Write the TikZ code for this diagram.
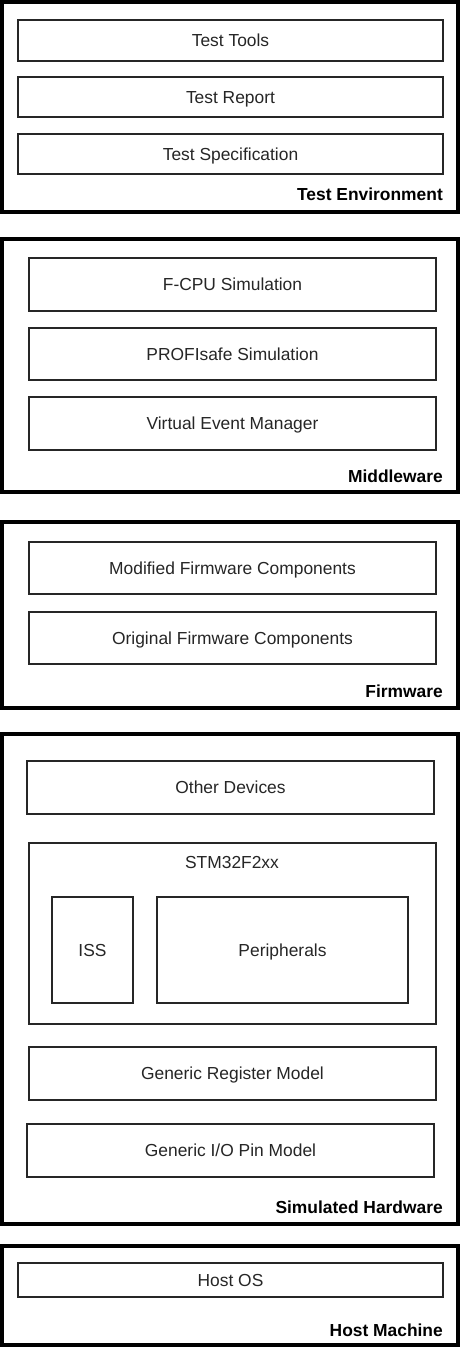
\documentclass[tikz,border=0pt]{standalone}
\usepackage{fontspec}
\setmainfont{Liberation Sans}
\usetikzlibrary{fit}
\begin{document}
\begin{tikzpicture}[x=1pt,y=-1pt,
  layer/.style={draw=black, line width=4pt, inner sep=0pt, fill=white},
  inbox/.style={draw=black!85, line width=2pt, inner sep=0pt},
  lbl/.style={anchor=base east, inner sep=0pt, font=\fontsize{17.4}{20}\selectfont\bfseries},
  txt/.style={inner sep=0pt, anchor=center, text height=12.5pt, text depth=0pt, font=\fontsize{17.4}{20}\selectfont, text=black!85}]
\useasboundingbox[fill=white] (0,0) rectangle (462,1348);
% outer layers
\node[layer, fit={(2,2.5) (458,212)}] (testenv) {};
\node[layer, fit={(2,239) (458,492)}] (mw) {};
\node[layer, fit={(2,522) (458,708)}] (fw) {};
\node[layer, fit={(2,734) (458,1224)}] (hw) {};
\node[layer, fit={(2,1246) (458,1345)}] (host) {};
% test environment
\node[inbox, fit={(18,20) (443,61)}] (tools) {};
\node[txt] (toolst) at (tools.center) {Test Tools};
\node[inbox, fit={(18,77) (443,117)}] (report) {};
\node[txt] (reportt) at (report.center) {Test Report};
\node[inbox, fit={(18,134) (443,174)}] (spec) {};
\node[txt] (spect) at (spec.center) {Test Specification};
\node[lbl] (testenvl) at (443,201) {Test Environment};
% middleware
\node[inbox, fit={(29,258) (436,311)}] (fcpu) {};
\node[txt] (fcput) at (fcpu.center) {F-CPU Simulation};
\node[inbox, fit={(29,328) (436,380)}] (profi) {};
\node[txt] (profit) at (profi.center) {PROFIsafe Simulation};
\node[inbox, fit={(29,397) (436,450)}] (vem) {};
\node[txt] (vemt) at (vem.center) {Virtual Event Manager};
\node[lbl] (mwl) at (443,482) {Middleware};
% firmware
\node[inbox, fit={(29,542) (436,594)}] (mod) {};
\node[txt] (modt) at (mod.center) {Modified Firmware Components};
\node[inbox, fit={(29,612) (436,664)}] (orig) {};
\node[txt] (origt) at (orig.center) {Original Firmware Components};
\node[lbl] (fwl) at (443,697) {Firmware};
% simulated hardware
\node[inbox, fit={(27,761) (434,814)}] (other) {};
\node[txt] (othert) at (other.center) {Other Devices};
\node[inbox, fit={(29,843) (436,1024)}] (stm) {};
\node[txt] (stml) at (232,862) {STM32F2xx};
\node[inbox, fit={(52,897) (133,1003)}] (iss) {};
\node[txt] (isst) at (iss.center) {ISS};
\node[inbox, fit={(157,897) (408,1003)}] (periph) {};
\node[txt] (periapht) at (periph.center) {Peripherals};
\node[inbox, fit={(29,1047) (436,1100)}] (grm) {};
\node[txt] (grmt) at (grm.center) {Generic Register Model};
\node[inbox, fit={(27,1124) (434,1177)}] (gio) {};
\node[txt] (giot) at (gio.center) {Generic I/O Pin Model};
\node[lbl] (hwl) at (443,1213) {Simulated Hardware};
% host machine
\node[inbox, fit={(18,1263) (443,1297)}] (hostos) {};
\node[txt] (hostost) at (hostos.center) {Host OS};
\node[lbl] (hostl) at (443,1336) {Host Machine};
\end{tikzpicture}
\end{document}
